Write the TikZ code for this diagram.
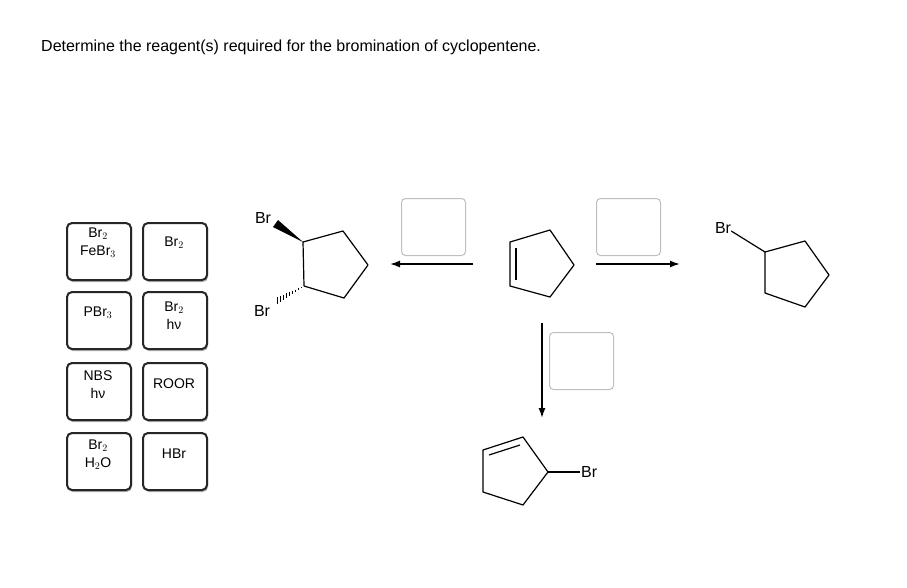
\documentclass[tikz,border=0pt]{standalone}
\usepackage{fontspec}
\setmainfont{Liberation Sans}
\usetikzlibrary{arrows.meta,calc}
\begin{document}
\begin{tikzpicture}[x=1pt,y=-1pt,
  rbox/.style={draw=black!85,line width=2pt,rounded corners=5pt,minimum width=64pt,minimum height=57pt,anchor=north west,inner sep=0pt},
  ebox/.style={draw=black!25,line width=1pt,fill=white,rounded corners=4pt,minimum width=64pt,minimum height=57pt,anchor=north west},
  bond/.style={line width=1.2pt},
  arr/.style={line width=1.5pt,-{Latex[length=10pt,width=7pt]}},
  lab/.style={font=\fontsize{16}{18}\selectfont,inner sep=1pt},
  btxt/.style={font=\fontsize{14}{18}\selectfont,align=center}]
\useasboundingbox (0,0) rectangle (907,587);
\node[anchor=base west,font=\fontsize{16}{19}\selectfont,inner sep=0] (title) at (41,51) {Determine the reagent(s) required for the bromination of cyclopentene.};
% reagent boxes
\foreach \n/\x/\y/\t/\ty in {
 a/66/222/{Br$_2$\\FeBr$_3$}/243, b/142/222/{Br$_2$}/243,
 c/66/291/{PBr$_3$}/313, d/142/291/{Br$_2$\\hν}/316,
 e/66/362/{NBS\\hν}/385, f/142/362/{ROOR}/384,
 g/66/432/{Br$_2$\\H$_2$O}/455, h/142/432/{HBr}/454}{
  \fill[black!30,rounded corners=5pt] (\x+2,\y+2) rectangle ++(64,58);
  \node[rbox,fill=white] (\n) at (\x,\y) {};
  \node[btxt] (\n t) at (\x+32,\ty) {\t};
}
% empty boxes
\node[ebox] (e1) at (401,198) {};
\node[ebox] (e2) at (596,198) {};
\node[ebox] (e3) at (549,332) {};
% arrows
\coordinate (l1) at (473,264); \coordinate (l2) at (390,264);
\draw[arr] (l1) -- (l2);
\coordinate (r1) at (596,264); \coordinate (r2) at (680,264);
\draw[arr] (r1) -- (r2);
\coordinate (d1) at (542,323); \coordinate (d2) at (542,418);
\draw[arr] (d1) -- (d2);
% dibromide
\coordinate (p1) at (303,242); \coordinate (p2) at (343,231); \coordinate (p3) at (368,265);
\coordinate (p4) at (344,298); \coordinate (p5) at (304,286);
\draw[bond,line join=round] (p1)--(p2)--(p3)--(p4)--(p5)--cycle;
\node[lab] (br1) at (263,218) {Br};
\node[lab] (br2) at (262,311) {Br};
\fill (p1) -- (273,227) -- (278,220) -- cycle;
\foreach \i in {0,...,9}{
  \draw[line width=0.7pt] ($(p5)!\i/10!(274,302)+(0,-0.6*\i/10*6)$) -- ++(0,1.2*\i/10*6);}
% cyclopentene
\coordinate (c1) at (510,242); \coordinate (c2) at (550,230); \coordinate (c3) at (574,265);
\coordinate (c4) at (550,297); \coordinate (c5) at (510,286);
\draw[bond,line join=round] (c1)--(c2)--(c3)--(c4)--(c5)--cycle;
\draw[bond] (516,248) -- (516,280);
% bromocyclopentane
\coordinate (q1) at (765,252); \coordinate (q2) at (805,241); \coordinate (q3) at (829,275);
\coordinate (q4) at (805,307); \coordinate (q5) at (765,293);
\draw[bond,line join=round] (q1)--(q2)--(q3)--(q4)--(q5)--cycle;
\node[lab] (br3) at (723,228) {Br};
\draw[bond] (br3.east) ++(-1,3) -- (q1);
% allylic bromide
\coordinate (s1) at (483,450); \coordinate (s2) at (523,437); \coordinate (s3) at (548,472);
\coordinate (s4) at (523,505); \coordinate (s5) at (483,492);
\draw[bond,line join=round] (s1)--(s2)--(s3)--(s4)--(s5)--cycle;
\draw[bond] (489,455) -- (520,445);
\node[lab,anchor=west] (br4) at (580,472) {Br};
\draw[bond] (s3) -- (br4.west);
\end{tikzpicture}
\end{document}
